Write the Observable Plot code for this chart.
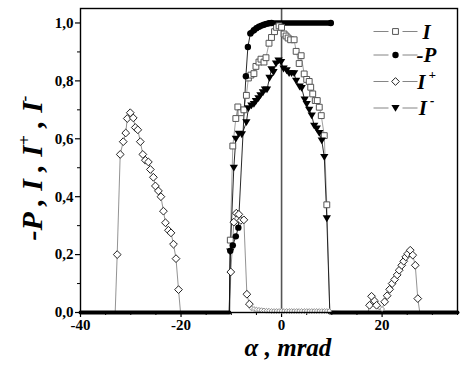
<!DOCTYPE html>
<html><head><meta charset="utf-8">
<script src="https://cdn.jsdelivr.net/npm/d3@7"></script>
<script src="https://cdn.jsdelivr.net/npm/@observablehq/plot@0.6"></script>
<style>body{margin:0;background:#fff}</style>
</head><body><div id="chart"></div>
<script>
// ---- data ----
// I  (open squares)
const iX = [-10.4,-10.2,-9.7,-9.1,-8.7,-8.1,-7.5,-7.0,-6.6,-6.1,-5.5,-5.1,-4.5,-4.1,-3.5,-3.1,-2.5,-2.0,-1.4,-1.0,-0.5,0.0,0.5,0.9,1.3,1.8,2.5,2.9,3.5,3.9,4.5,5.0,5.5,5.8,6.2,6.7,7.1,7.5,7.9,8.5,9.0,9.6];
const iY = [0,0.25,0.575,0.67,0.71,0.69,0.70,0.75,0.81,0.82,0.825,0.85,0.865,0.875,0.865,0.88,0.93,0.95,0.97,0.985,0.99,0.985,0.962,0.955,0.948,0.942,0.942,0.902,0.86,0.887,0.824,0.805,0.798,0.778,0.755,0.732,0.732,0.709,0.68,0.611,0.372,0];
// -P (filled circles); null breaks the line
const pX = [-40,-10.4,-10.4,-10.2,-9.7,-9.1,-8.6,-7.1,-6.7,-6.2,-5.5,-5.0,-4.5,-4.0,-3.5,-3.0,-2.5,-2.0,9.8,9.8,9.6,35];
const pY = [0,0,0,0.213,0.232,0.263,0.293,0.816,0.917,0.964,0.975,0.982,0.987,0.991,0.994,0.997,0.999,1.0,1.0,null,0,0];
// I+ (open diamonds)
const ipX = [-33.1,-32.7,-32.1,-31.5,-31.0,-30.7,-30.1,-29.5,-29.1,-28.6,-28.1,-27.6,-27.1,-26.5,-26.1,-25.5,-25.1,-24.5,-24.0,-23.5,-23.1,-22.5,-22.0,-21.5,-21.0,-20.5,-20.1,
  -10.3,-10.1,-9.5,-9.0,-8.5,-8.1,-7.5,-6.9,-6.4,
  -6.0,-5.5,-5.0,-4.5,-4.0,-3.5,-3.0,-2.5,-2.0,-1.5,-1.0,-0.5,0.0,0.5,1.0,1.5,2.0,2.5,3.0,3.5,4.0,4.5,5.0,5.5,6.0,6.5,7.0,7.5,8.0,8.5,9.0,9.5,
  17.2,17.5,17.9,18.5,18.9,19.5,20.0,20.5,21.0,21.5,22.0,22.5,23.0,23.4,23.9,24.3,24.7,25.1,25.6,26.1,26.6,27.1,27.5];
const ipY = [0,0.20,0.546,0.59,0.62,0.67,0.69,0.672,0.639,0.631,0.59,0.546,0.526,0.52,0.494,0.467,0.437,0.42,0.40,0.35,0.31,0.284,0.275,0.236,0.186,0.079,0,
  0,0.14,0.312,0.343,0.339,0.318,0.32,0.063,0.029,
  0.015,0.012,0.010,0.009,0.008,0.007,0.006,0.006,0.005,0.005,0.005,0.005,0.005,0.005,0.005,0.005,0.005,0.005,0.005,0.005,0.005,0.005,0.005,0.005,0.005,0.005,0.005,0.005,0.005,0.005,0.005,0.005,
  0,0.025,0.056,0.04,0.025,0.017,0.012,0.037,0.058,0.08,0.10,0.114,0.13,0.146,0.163,0.177,0.192,0.203,0.215,0.198,0.163,0.048,0];
// I- (filled down triangles)
const imX = [-10.4,-10.2,-9.5,-9.1,-8.5,-7.9,-7.0,-6.6,-6.0,-5.5,-5.1,-4.6,-4.2,-3.7,-3.3,-2.9,-2.4,-2.0,-1.6,-1.1,-0.6,-0.1,0.4,1.0,1.5,2.0,2.5,2.9,3.6,4.0,4.6,5.0,5.5,6.0,6.5,7.0,7.5,8.0,8.5,9.0,9.6];
const imY = [0,0.21,0.50,0.60,0.617,0.615,0.657,0.705,0.715,0.72,0.73,0.74,0.75,0.76,0.77,0.77,0.81,0.84,0.83,0.86,0.87,0.865,0.842,0.836,0.826,0.826,0.826,0.80,0.78,0.775,0.735,0.72,0.70,0.68,0.645,0.635,0.62,0.594,0.537,0.325,0];

const xTicks = [-40,-20,0,20];
const xMinorTicks = [-35,-30,-25,-15,-10,-5,5,10,15,25,30,35];
const yTicks = [0,0.2,0.4,0.6,0.8,1.0];
const yTickLabels = ["0,0","0,2","0,4","0,6","0,8","1,0"];
const yMinorTicks = [0.1,0.3,0.5,0.7,0.9];
const legendLabels = ["I","-P","I","I"];
const legendSups = ["","","+","-"];

const rows = (xs, ys) => xs.map((x, i) => ({x, y: ys[i]}));
const I = rows(iX, iY), P = rows(pX, pY), Ip = rows(ipX, ipY), Im = rows(imX, imY);

const triangleDown = {
  draw(ctx, size) {
    const w = Math.sqrt(size) * 0.65;
    ctx.moveTo(-w, -w * 0.75); ctx.lineTo(w, -w * 0.75); ctx.lineTo(0, w * 0.9); ctx.closePath();
  }
};

const chart = Plot.plot({
  width: 474, height: 367,
  marginLeft: 80, marginRight: 17, marginTop: 8, marginBottom: 55,
  style: {fontFamily: "'Liberation Serif', serif", fontWeight: "bold", fontSize: "15px", color: "black", background: "white"},
  x: {domain: [-40, 35]},
  y: {domain: [0, 1.05]},
  marks: [
    Plot.axisX(xMinorTicks, {tickSize: 3, tickFormat: () => "", label: null, strokeWidth: 1}),
    Plot.axisX(xTicks, {tickSize: 5, tickPadding: 2, tickFormat: d => String(d), label: null, strokeWidth: 1.2}),
    Plot.axisY(yMinorTicks, {tickSize: 3, tickFormat: () => "", label: null}),
    Plot.axisY(yTicks, {tickSize: 5, tickPadding: 2, tickFormat: d => yTickLabels[yTicks.indexOf(d)], label: null, strokeWidth: 1.2}),
    Plot.ruleX([0], {stroke: "#555", strokeWidth: 1.6}),
    Plot.line(Ip, {x: "x", y: "y", stroke: "#777", strokeWidth: 0.8}),
    Plot.line(I, {x: "x", y: "y", stroke: "#888", strokeWidth: 0.8}),
    Plot.line(Im, {x: "x", y: "y", stroke: "#111", strokeWidth: 0.9}),
    Plot.line(P, {x: "x", y: "y", stroke: "#111", strokeWidth: 0.9}),
    // dense runs of -P markers
    Plot.line(P.filter(d => d.y === 0 && d.x < 0), {x: "x", y: "y", stroke: "black", strokeWidth: 4}),
    Plot.line(P.filter(d => d.y === 0 && d.x > 0), {x: "x", y: "y", stroke: "black", strokeWidth: 4}),
    Plot.line(P.filter(d => d.y > 0.95), {x: "x", y: "y", stroke: "black", strokeWidth: 5.5, strokeLinecap: "round"}),
    // markers
    Plot.dot(Ip.filter(d => d.y > 0 && d.y < 0.02), {x: "x", y: "y", symbol: "diamond2", r: 2.2, stroke: "#777", fill: "white", strokeWidth: 0.8}),
    Plot.dot(Ip.filter(d => d.y >= 0.02), {x: "x", y: "y", symbol: "diamond2", r: 3.5, stroke: "#222", fill: "white", strokeWidth: 1}),
    Plot.dot(I.filter(d => d.y > 0), {x: "x", y: "y", symbol: "square", r: 3.3, stroke: "#555", fill: "white", strokeWidth: 1}),
    Plot.dot(P.filter(d => d.y > 0), {x: "x", y: "y", symbol: "circle", r: 3.2, fill: "black", stroke: "none"}),
    Plot.dot(Im.filter(d => d.y > 0), {x: "x", y: "y", symbol: triangleDown, r: 3.6, fill: "black", stroke: "none"}),
    Plot.frame({stroke: "black", strokeWidth: 1.4})
  ]
});
document.getElementById("chart").appendChild(chart);

// ---- axis titles & legend ----
const svg = d3.select(chart);
const ylab = svg.append("text")
  .attr("transform", "translate(42,168) rotate(-90)")
  .attr("text-anchor", "middle")
  .style("font-family", "'Liberation Serif', serif").style("font-weight", "bold").style("font-style", "italic")
  .style("font-size", "30px").attr("fill", "black");
ylab.append("tspan").text("-P , I , I");
ylab.append("tspan").attr("dy", -12).style("font-size", "17px").text("+");
ylab.append("tspan").attr("dy", 12).text(" , I");
ylab.append("tspan").attr("dy", -12).style("font-size", "17px").text("-");

svg.append("text")
  .attr("x", 288).attr("y", 356).attr("text-anchor", "middle")
  .style("font-family", "'Liberation Serif', serif").style("font-weight", "bold").style("font-style", "italic")
  .style("font-size", "25px").attr("fill", "black")
  .text("α , mrad");

const legSymbols = [d3.symbolSquare, d3.symbolCircle, d3.symbolDiamond2, triangleDown];
const legFill = ["white", "black", "white", "black"];
const legStroke = ["#555", "none", "#222", "none"];
const legSize = [34, 32, 38, 40];
const rowY = [31.5, 55, 81.5, 108];
legendLabels.forEach((lab, k) => {
  const g = svg.append("g").attr("transform", `translate(395.5,${rowY[k]})`);
  g.append("line").attr("x1", -22).attr("x2", -7).attr("stroke", "#777").attr("stroke-width", 0.9);
  g.append("line").attr("x1", 7).attr("x2", 22).attr("stroke", "#777").attr("stroke-width", 0.9);
  g.append("path").attr("d", d3.symbol(legSymbols[k], legSize[k])()).attr("fill", legFill[k]).attr("stroke", legStroke[k]);
  const t = g.append("text").attr("x", 31).attr("y", 7)
    .style("font-family", "'Liberation Serif', serif").style("font-weight", "bold").style("font-style", "italic")
    .style("font-size", "21px").attr("fill", "black");
  t.append("tspan").text(lab);
  if (legendSups[k]) t.append("tspan").attr("dy", -10).attr("dx", 3).style("font-size", "13px").text(legendSups[k]);
});
</script>
</body></html>
